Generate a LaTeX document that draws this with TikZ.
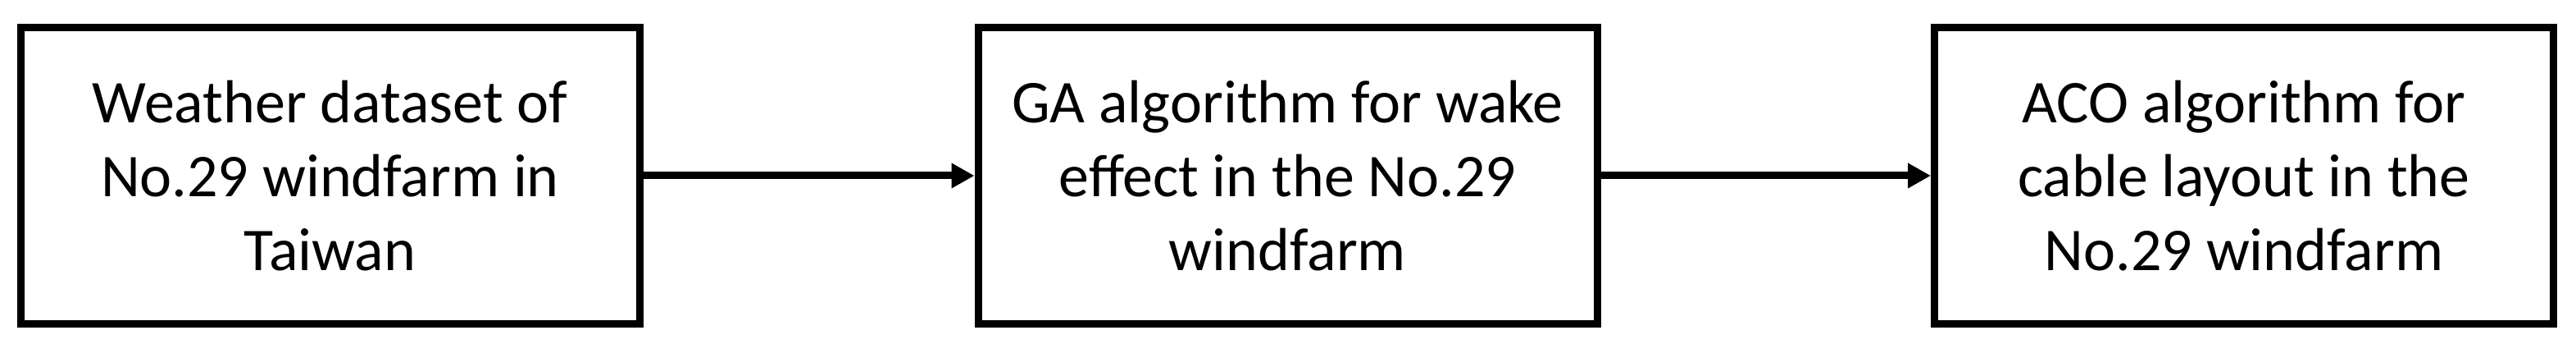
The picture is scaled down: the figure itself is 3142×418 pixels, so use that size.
\documentclass[tikz,border=0pt]{standalone}
\usepackage{fontspec}
\setmainfont{Carlito}
\usetikzlibrary{arrows.meta}
\begin{document}
\begin{tikzpicture}[x=1pt,y=1pt,
  box/.style={draw=black, line width=9pt, minimum width=755pt, minimum height=360pt,
    inner sep=0pt, align=center, font=\fontsize{74}{90}\selectfont},
  flow/.style={line width=9pt, -{Triangle[length=28pt,width=29pt]}}]
\useasboundingbox (0,0) rectangle (3142,418);
\node[box] (a) at (402.5,204) {Weather dataset of\\No.29 windfarm in\\Taiwan};
\node[box] (b) at (1570.5,204) {GA algorithm for wake\\effect in the No.29\\windfarm};
\node[box] (c) at (2737,204) {ACO algorithm for\\cable layout in the\\No.29 windfarm};
\draw[flow] (a.east) -- (b.west);
\draw[flow] (b.east) -- (c.west);
\end{tikzpicture}
\end{document}
